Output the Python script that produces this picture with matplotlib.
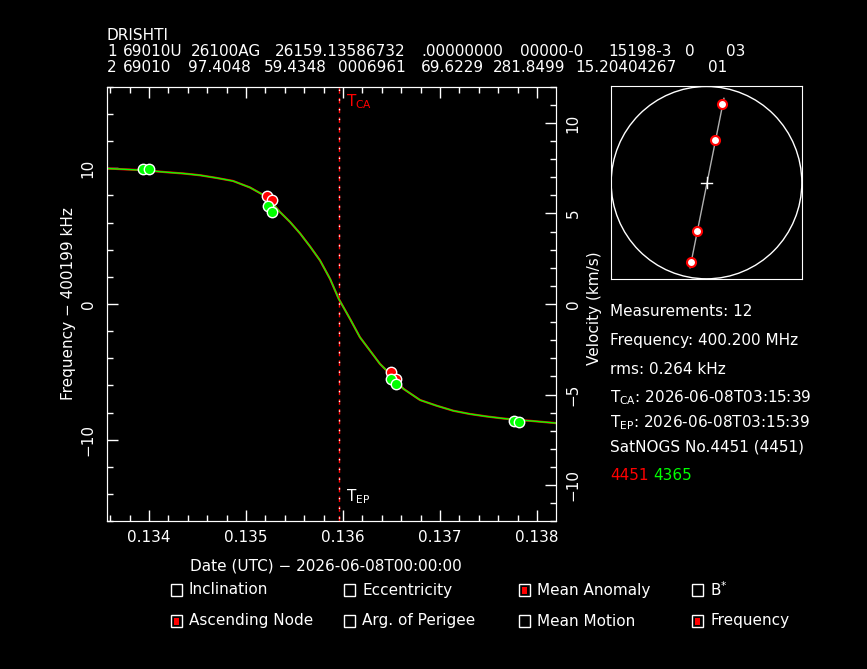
import matplotlib
matplotlib.use('Agg')
import matplotlib.pyplot as plt
from matplotlib.patches import Rectangle, Circle
import numpy as np

# header / TLE, split into fields
sat_name = 'DRISHTI'
tle1 = ['1', '69010U', '26100AG', '26159.13586732', '.00000000', '00000-0', '15198-3', '0', '03']
tle1_x = [107, 123, 191, 275, 421, 520, 608, 685, 726]
tle2 = ['2', '69010', '97.4048', '59.4348', '0006961', '69.6229', '281.8499', '15.20404267', '01']
tle2_x = [107, 123, 188, 264, 338, 421, 493, 575, 708]

# doppler model curve
curve_t = [0.133564, 0.133938, 0.134186, 0.134354, 0.134526, 0.134698, 0.134866,
           0.135041, 0.135216, 0.135351, 0.135454, 0.135557, 0.135660, 0.135763,
           0.135866, 0.135956, 0.136072, 0.136175, 0.136278, 0.136381, 0.136485,
           0.136622, 0.136794, 0.136966, 0.137137, 0.137309, 0.137481, 0.137653,
           0.137825, 0.137928, 0.138196]
curve_f = [9.98, 9.85, 9.70, 9.61, 9.48, 9.28, 9.06, 8.58, 7.88, 6.77, 6.04, 5.20,
           4.24, 3.21, 1.86, 0.38, -1.09, -2.45, -3.43, -4.41, -5.15, -6.24, -7.07,
           -7.49, -7.86, -8.10, -8.28, -8.43, -8.55, -8.60, -8.77]

# measurements, station 4451 (red) and 4365 (green)
red_t = [0.135220, 0.135271, 0.136492, 0.136546]
red_f = [7.93, 7.66, -5.03, -5.55]
green_t = [0.133941, 0.134003, 0.135224, 0.135271, 0.136492, 0.136546, 0.137763, 0.137818]
green_f = [9.93, 9.93, 7.20, 6.80, -5.52, -5.89, -8.60, -8.72]

t_ca = 0.135956

# sky plot track
track_x = [0.182, -0.172]
track_y = [0.872, -0.881]
sky_x = [0.165, 0.092, -0.099, -0.161]
sky_y = [0.8125, 0.445, -0.502, -0.826]

info_lines = ['Measurements: 12', 'Frequency: 400.200 MHz', 'rms: 0.264 kHz']
t_ca_str = ': 2026-06-08T03:15:39'
t_ep_str = ': 2026-06-08T03:15:39'
station_line = 'SatNOGS No.4451 (4451)'
stations = ['4451', '4365']

checkboxes = [['Inclination', 'Eccentricity', 'Mean Anomaly', 'B$^{*}$'],
              ['Ascending Node', 'Arg. of Perigee', 'Mean Motion', 'Frequency']]
checked = [[False, False, True, False], [True, False, False, True]]

W, H = 867, 669
fig = plt.figure(figsize=(W / 100, H / 100), dpi=100, facecolor='black')
fs = 11


def px_axes(l, t, r, b):
    return [l / W, 1 - b / H, (r - l) / W, (b - t) / H]


ax = fig.add_axes(px_axes(106.7, 86.7, 556, 521.3))
ax.set_facecolor('black')
ax.plot(curve_t, curve_f, color='red', lw=1.6)
ax.plot(curve_t, curve_f, color='#00ff00', lw=1.0)
ax.axvline(t_ca, color='red', lw=1.0, ls=(0, (4, 3)))
ax.axvline(t_ca, color='white', lw=1.0, ls=(5, (1, 6)))
ax.plot(red_t, red_f, 'o', color='red', mec='white', mew=1.0, ms=7.5)
ax.plot(green_t, green_f, 'o', color='#00ff00', mec='white', mew=1.0, ms=7.5)
ax.set_xlim(0.133564, 0.138196)
ax.set_ylim(-16, 16)
ax.text(t_ca + 0.00007, 15.6, r'T$_{\rm CA}$', color='red', fontsize=fs, va='top')
ax.text(t_ca + 0.00007, -13.5, r'T$_{\rm EP}$', color='white', fontsize=fs, va='top')

ax.set_xticks(np.arange(0.134, 0.1385, 0.001))
ax.set_xticks(np.arange(0.1336, 0.1382, 0.0002), minor=True)
ax.set_xticklabels(['0.134', '0.135', '0.136', '0.137', '0.138'])
ax.set_yticks([-10, 0, 10])
ax.set_yticks(np.arange(-16, 17, 2), minor=True)
ax.set_yticklabels(['\u221210', '0', '10'], rotation=90, va='center')
ax.tick_params(which='both', direction='in', colors='white', labelsize=fs,
               top=True, right=False)
ax.tick_params(which='major', length=8, width=1)
ax.tick_params(which='minor', length=4, width=1)
ax.tick_params(axis='x', pad=6)
ax.tick_params(axis='y', pad=8)
for s in ax.spines.values():
    s.set_color('white')
ax.set_ylabel('Frequency \u2212 400199 kHz', color='white', fontsize=fs)
ax.yaxis.set_label_coords(-0.068, 0.5)

ax2 = ax.twinx()
ax2.set_ylim(-12, 12)
ax2.set_yticks([-10, -5, 0, 5, 10])
ax2.set_yticks(np.arange(-12, 13, 1), minor=True)
ax2.set_yticklabels(['\u221210', '\u22125', '0', '5', '10'], rotation=90, va='center')
ax2.tick_params(which='both', direction='in', colors='white', labelsize=fs)
ax2.tick_params(which='major', length=8, width=1, pad=7)
ax2.tick_params(which='minor', length=4, width=1)
for s in ax2.spines.values():
    s.set_color('white')
ax2.set_ylabel('Velocity (km/s)', color='white', fontsize=fs)
ax2.yaxis.set_label_coords(1.068, 0.49)

# sky plot
sk = fig.add_axes(px_axes(610.7, 86, 802.3, 279.3))
sk.set_facecolor('black')
sk.set_xlim(-1, 1)
sk.set_ylim(-1, 1)
sk.add_patch(Circle((0, 0), 0.995, fill=False, ec='white', lw=1.0))
sk.plot(track_x, track_y, color='#b0b0b0', lw=1.0)
sk.plot([-0.06, 0.06], [0, 0], color='white', lw=1.0)
sk.plot([0, 0], [-0.06, 0.06], color='white', lw=1.0)
sk.plot(sky_x, sky_y, 'o', color='white', mec='red', mew=1.5, ms=6.5)
sk.set_xticks([])
sk.set_yticks([])
for s in sk.spines.values():
    s.set_color('white')

# overlay in pixel coordinates for text and checkboxes
ov = fig.add_axes([0, 0, 1, 1])
ov.set_xlim(0, W)
ov.set_ylim(H, 0)
ov.axis('off')
ov.patch.set_alpha(0)

ov.text(107, 35, sat_name, color='white', fontsize=fs, va='center')
for txt, x in zip(tle1, tle1_x):
    ov.text(x, 51, txt, color='white', fontsize=fs, va='center')
for txt, x in zip(tle2, tle2_x):
    ov.text(x, 68, txt, color='white', fontsize=fs, va='center')

ov.text(190, 566, 'Date (UTC) \u2212 2026-06-08T00:00:00', color='white', fontsize=fs, va='center')

for i, line in enumerate(info_lines):
    ov.text(610, 312 + i * 28.5, line, color='white', fontsize=fs, va='center')
ov.text(610, 398, r'T$_{\rm CA}$' + t_ca_str, color='white', fontsize=fs, va='center')
ov.text(610, 423, r'T$_{\rm EP}$' + t_ep_str, color='white', fontsize=fs, va='center')
ov.text(610, 447, station_line, color='white', fontsize=fs, va='center')
ov.text(610, 475, stations[0], color='red', fontsize=fs, va='center')
ov.text(653, 475, stations[1], color='#00ff00', fontsize=fs, va='center')

col_x = [171, 344, 519, 692]
row_y = [590, 621]
for r in range(2):
    for c in range(4):
        x0, y0 = col_x[c], row_y[r]
        ov.add_patch(Rectangle((x0, y0 - 6), 11, 12, fill=False, ec='white', lw=1.0))
        if checked[r][c]:
            ov.add_patch(Rectangle((x0 + 3, y0 - 3.5), 5, 7, color='red', lw=0))
        ov.text(x0 + 18, y0, checkboxes[r][c], color='white', fontsize=fs, va='center')

fig.savefig('out.png', dpi=100, facecolor='black')
